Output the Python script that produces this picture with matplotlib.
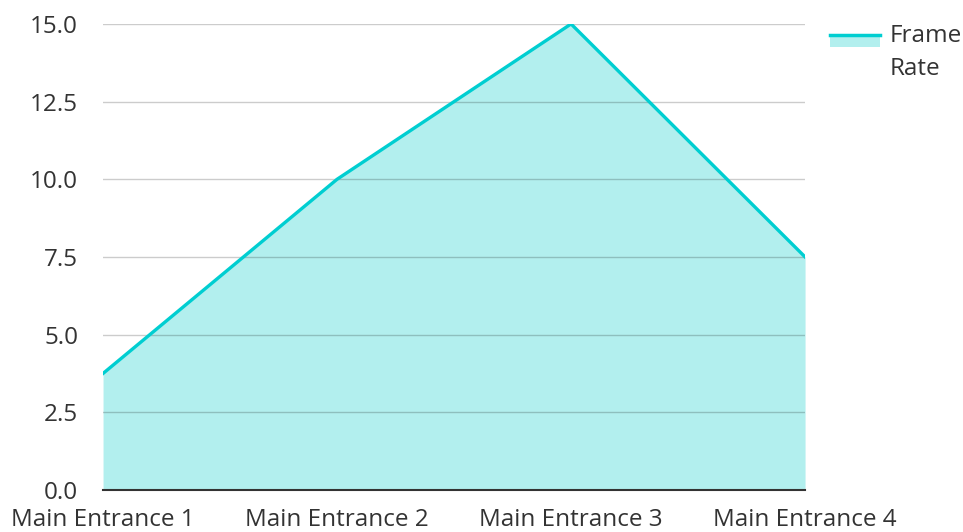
import matplotlib.pyplot as plt
from matplotlib.lines import Line2D
from matplotlib.patches import Rectangle
from matplotlib.legend_handler import HandlerBase

plt.rcParams['font.family'] = ['Open Sans', 'DejaVu Sans']

entrances = ["Main Entrance 1", "Main Entrance 2", "Main Entrance 3", "Main Entrance 4"]
frame_rate = [3.75, 10.0, 15.0, 7.5]
y_ticks = [0.0, 2.5, 5.0, 7.5, 10.0, 12.5, 15.0]

LINE = "#00CED1"
FILL = "#B2EFEE"
FS = 17.5


class AreaHandler(HandlerBase):
    # legend key: line on top, filled strip just under it
    def create_artists(self, legend, orig, xd, yd, w, h, fontsize, trans):
        top = yd + h + 7
        box = Rectangle((xd, top - 9), w, 9, facecolor=FILL, edgecolor="none", transform=trans)
        ln = Line2D([xd, xd + w], [top, top], color=LINE, lw=2.5, transform=trans)
        return [box, ln]


fig = plt.figure(figsize=(9.63, 5.32), dpi=100)
ax = fig.add_axes([0.107, 0.079, 0.729, 0.876])

x = range(len(entrances))
ax.fill_between(x, frame_rate, color=FILL, lw=0, zorder=1)
ax.plot(x, frame_rate, color=LINE, lw=2.4, zorder=3, solid_joinstyle="miter")

ax.set_xlim(0, len(entrances) - 1)
ax.set_ylim(0, 15)
ax.set_yticks(y_ticks)
ax.set_yticklabels([f"{v:.1f}" for v in y_ticks])
ax.set_xticks(list(x))
ax.set_xticklabels(entrances)

ax.grid(axis="y", color="black", alpha=0.2, lw=1.0, zorder=2)
ax.set_axisbelow(False)
for s in ["top", "right", "left"]:
    ax.spines[s].set_visible(False)
ax.spines["bottom"].set_color("#333333")
ax.spines["bottom"].set_linewidth(1.5)
ax.spines["bottom"].set_zorder(4)
ax.tick_params(axis="both", length=0, labelsize=FS, labelcolor="#333333")
ax.tick_params(axis="y", pad=18)
ax.tick_params(axis="x", pad=13)

handle = Rectangle((0, 0), 1, 1)
leg = fig.legend([handle], ["Frame\nRate"], handler_map={Rectangle: AreaHandler()},
                 loc="upper left", bbox_to_anchor=(830 / 963, 1 - 24 / 532), frameon=False,
                 borderpad=0, borderaxespad=0,
                 fontsize=FS, labelcolor="#333333", handlelength=2.05, handleheight=0.7,
                 handletextpad=0.42)
leg.get_texts()[0].set_linespacing(1.5)

fig.savefig("out.png", dpi=100)
